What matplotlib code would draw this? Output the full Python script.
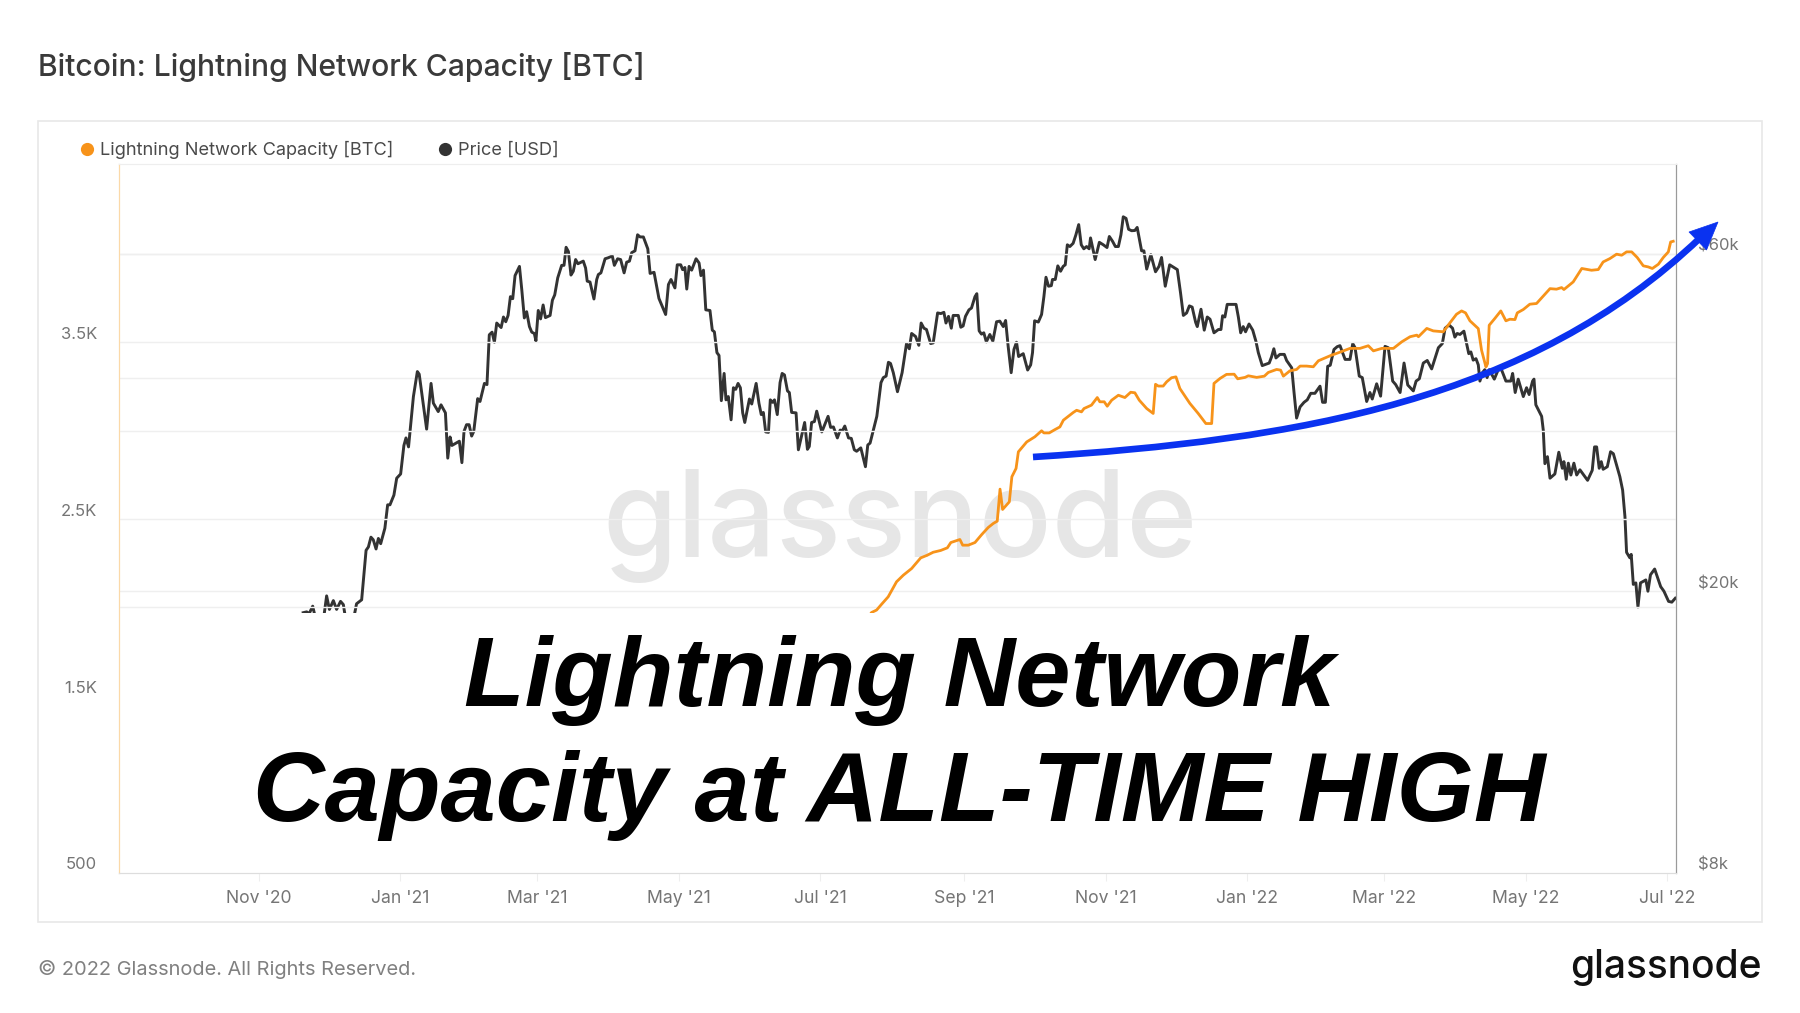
import numpy as np
import pandas as pd
import matplotlib
matplotlib.use("Agg")
import matplotlib.pyplot as plt
from matplotlib.patches import Rectangle, PathPatch, Polygon
from matplotlib.path import Path

start_date = pd.Timestamp("2020-09-02")

# days since start_date, price in thousand USD
price_days = [
    79.2, 80.7, 81.8, 83.3, 84.7, 87.9, 89.3, 90.5, 92.2, 93.6,
    95.3, 96.5, 97.6, 100.8, 102.2, 104.4, 106.3, 107.3, 108.4, 109.4,
    110.6, 111.6, 112.6, 114.4, 115.6, 116.6, 118.3, 119.5, 121.2, 122.6,
    123.5, 124.6, 126.7, 128.4, 129.2, 130.7, 132.4, 134.3, 135.3, 137.4,
    138.6, 140.5, 141.5, 142.5, 143.3, 146.5, 147.6, 148.5, 149.6, 150.7,
    151.8, 152.7, 154.4, 155.4, 157.3, 158.4, 159.4, 160.6, 161.6, 162.6,
    164.5, 165.5, 166.5, 167.5, 168.5, 169.5, 170.5, 172.4, 173.4, 174.5,
    175.5, 176.7, 177.7, 178.8, 179.5, 180.5, 181.5, 182.6, 183.6, 185.6,
    186.6, 187.6, 188.9, 190.6, 191.6, 192.5, 193.5, 194.6, 195.6, 196.6,
    197.6, 199.9, 200.9, 201.6, 202.8,
    204.5, 205.7, 206.4, 207.5, 209.3, 210.7, 212.4, 213.3, 214.7, 216.0,
    217.5, 218.6, 219.8, 220.8, 222.2, 223.3, 224.4, 225.8, 227.7, 228.7,
    230.4, 232.5, 235.4, 236.6, 237.7, 239.4, 240.4, 241.9, 242.7, 243.7,
    244.5, 245.5, 246.6, 248.5, 249.8, 250.6, 251.7, 252.7, 254.5, 255.5,
    256.4, 257.5, 258.4, 259.4, 260.6, 261.4, 262.4, 263.6, 264.6, 265.6,
    266.6, 267.6, 268.6, 269.5, 271.5, 272.5, 274.4, 275.6, 276.6, 277.5,
    278.5, 279.7, 280.5, 281.5, 282.3, 283.5, 284.7, 285.6, 286.6, 287.9,
    288.7, 289.7, 291.6, 292.6, 293.6, 295.3, 296.5, 297.3, 298.3, 299.5,
    300.5, 302.7, 305.4, 306.5, 307.7, 309.4, 310.6, 311.6, 312.6, 314.2,
    315.4, 316.7, 317.7, 319.5, 321.5, 322.5, 323.5, 324.9, 326.4, 328.2,
    329.2, 330.4, 331.4,
    332.3, 333.5, 335.3, 337.3, 339.2, 340.4, 341.4, 343.1, 344.5, 345.5,
    346.7, 347.8, 349.6, 350.7, 352.6, 354.0, 355.3, 356.2, 357.3, 358.5,
    359.3, 361.5, 362.6, 363.6, 364.6, 366.1, 367.2, 368.7, 369.5, 370.5,
    371.5, 372.5, 373.6, 375.1, 376.4, 378.0, 379.4, 380.9, 381.9, 383.0,
    384.3, 385.5, 386.6, 387.5, 389.5, 391.4, 392.7, 393.5, 394.4, 396.0,
    397.4, 398.4, 399.3, 400.4, 401.6, 402.1, 403.3, 404.4, 405.6, 406.7,
    407.6, 408.5, 409.6, 411.0, 412.2, 413.4, 414.5, 415.6, 416.8, 417.9,
    418.5, 420.5, 422.3, 424.0, 425.6, 426.6, 428.0, 429.2, 430.5, 431.6,
    432.6, 433.8, 434.9, 436.2, 437.6, 438.6, 440.5, 441.5, 442.7, 444.5,
    446.5, 448.0,
    449.1, 450.7, 452.6, 455.9, 457.3, 458.5, 459.9, 461.1, 462.3, 463.8,
    464.5, 466.1, 467.5, 468.8, 470.0, 471.7, 473.6, 474.7, 475.4, 476.4,
    477.4, 481.2, 482.2, 483.2, 484.3, 485.3, 486.8, 488.4, 489.8, 490.8,
    492.5, 495.5, 496.5, 497.5, 498.4, 500.1, 502.0, 503.0, 505.2, 506.2,
    507.3, 508.8, 510.5, 511.9, 513.4, 515.2, 517.4, 518.5, 519.7, 520.7,
    521.8, 523.4, 524.8, 526.0, 528.2, 530.3, 531.5, 532.5, 534.3, 535.6,
    537.5, 538.9, 539.9, 541.8, 543.5, 545.4, 546.8, 548.7, 550.0, 551.9,
    553.6, 555.2, 557.6, 558.8, 560.2, 561.9, 563.6, 565.5, 568.4, 570.1,
    571.3, 573.0,
    574.5, 575.5, 576.5, 577.7, 579.4, 580.5, 581.5, 582.4, 583.4, 584.6,
    585.6, 586.3, 587.4, 588.4, 589.4, 590.3, 592.5, 594.2, 595.6, 597.5,
    599.6, 600.4, 601.5, 602.8, 605.0, 606.4, 607.5, 609.0, 609.6, 610.4,
    611.4, 612.9, 613.6, 614.3, 615.4, 616.5, 618.6, 620.3, 621.8, 622.5,
    623.5, 624.4, 625.5, 626.8, 628.0, 629.4, 632.0, 632.7, 634.7, 635.7,
    636.6, 637.7, 638.6, 639.4, 641.2, 642.6, 643.8, 645.2, 646.6, 647.8,
    648.8, 649.5, 650.9, 651.5, 652.4, 653.5, 654.4, 655.5, 657.8, 658.7,
    659.8, 661.6, 664.2, 665.6, 667.6, 669.0, 670.5,
]
price_k = [
    18.65, 18.7, 18.6, 19.05, 18.2, 18.2, 19.7, 18.85, 19.4, 18.85,
    19.35, 19.15, 18.2, 18.2, 19.2, 19.45, 22.85, 23.1, 23.85, 23.65,
    22.95, 23.75, 23.35, 24.55, 26.5, 26.5, 27.35, 28.9, 29.3, 32.15,
    32.95, 32.0, 37.7, 40.9, 40.55, 37.3, 33.9, 39.35, 36.9, 35.9,
    36.7, 35.75, 30.85, 33.05, 32.15, 32.6, 30.4, 33.65, 34.4, 34.4,
    33.15, 33.65, 37.45, 37.1, 39.35, 39.2, 46.1, 46.5, 45.0, 47.9,
    47.2, 48.85, 48.1, 49.1, 52.2, 51.85, 55.9, 57.6, 53.4, 48.7,
    49.7, 47.35, 46.5, 46.3, 45.2, 49.9, 48.55, 50.8, 48.75, 49.1,
    51.6, 52.5, 55.5, 57.8, 57.8, 61.3, 60.45, 56.0, 56.7, 58.9,
    58.1, 58.6, 57.3, 54.9, 54.75,
    51.8, 55.2, 56.1, 56.4, 59.05, 59.25, 59.6, 57.8, 59.05, 58.9,
    56.4, 58.4, 58.6, 60.25, 60.6, 63.85, 63.4, 63.4, 61.0, 56.3,
    56.5, 51.9, 49.25, 54.3, 55.2, 53.7, 57.9, 57.9, 57.0, 57.4,
    53.5, 57.6, 56.9, 59.05, 58.25, 55.9, 56.9, 50.0, 49.9, 46.8,
    46.55, 43.5, 43.1, 37.2, 40.65, 37.3, 37.7, 34.95, 38.8, 38.6,
    39.35, 38.8, 35.75, 34.65, 37.4, 36.8, 39.35, 36.9, 35.55, 35.8,
    33.6, 33.55, 37.3, 37.0, 37.3, 35.55, 39.45, 40.65, 40.45, 38.4,
    38.2, 35.8, 35.75, 31.7, 32.75, 34.65, 31.75, 32.05, 34.65, 34.75,
    35.95, 33.6, 35.35, 34.1, 34.15, 32.95, 33.8, 33.75, 34.25, 32.95,
    32.9, 31.7, 31.55, 31.9, 30.0, 32.2, 32.4, 33.8, 35.35, 39.45,
    40.1, 40.3, 42.15,
    42.0, 40.75, 38.3, 40.75, 44.8, 44.05, 46.3, 45.85, 44.55, 47.9,
    47.1, 46.9, 44.8, 44.9, 49.5, 49.4, 49.6, 47.9, 48.95, 47.1,
    49.1, 49.1, 47.25, 47.45, 48.95, 50.0, 50.3, 52.2, 52.7, 46.7,
    46.2, 46.4, 45.05, 46.15, 45.15, 48.1, 48.2, 47.35, 48.3, 44.4,
    40.75, 43.95, 45.0, 42.95, 43.35, 41.1, 41.8, 43.5, 48.25, 48.05,
    49.25, 52.2, 55.6, 54.0, 54.1, 55.2, 55.2, 57.7, 56.7, 57.6,
    57.9, 61.8, 61.45, 62.1, 63.85, 66.0, 61.8, 61.0, 61.45, 61.0,
    63.2, 58.9, 62.3, 61.8, 61.25, 63.5, 62.5, 61.45, 61.45, 63.85,
    67.7, 67.35, 65.0, 64.7, 64.75, 65.4, 60.6, 60.6, 57.1, 59.85,
    56.6, 57.6,
    59.3, 54.0, 57.9, 57.0, 52.8, 49.1, 49.5, 50.65, 50.45, 48.0,
    47.35, 50.1, 46.8, 48.85, 48.5, 46.4, 46.9, 46.9, 49.05, 48.85,
    50.9, 50.9, 48.85, 46.4, 47.35, 46.55, 47.75, 46.8, 45.1, 43.5,
    41.7, 42.05, 42.9, 44.05, 42.75, 43.25, 43.25, 42.4, 41.4, 38.2,
    35.15, 36.45, 37.0, 37.3, 38.1, 38.1, 39.0, 37.0, 37.0, 41.6,
    41.75, 43.95, 44.35, 44.5, 42.55, 42.55, 44.8, 44.2, 40.3, 40.1,
    37.1, 38.2, 37.4, 39.3, 37.75, 44.4, 44.2, 39.65, 39.2, 38.2,
    42.05, 39.15, 38.4, 39.65, 39.95, 42.05, 42.4, 41.25, 44.2, 44.8,
    47.1, 47.6,
    47.1, 45.75, 46.3, 46.15, 46.65, 44.9, 43.35, 43.6, 42.45, 42.65,
    41.8, 39.65, 40.75, 41.15, 40.1, 41.15, 39.9, 41.15, 41.15, 39.65,
    39.65, 40.65, 38.2, 39.9, 37.7, 38.8, 37.95, 39.65, 39.9, 36.7,
    36.15, 35.35, 33.8, 30.3, 31.0, 28.9, 29.3, 31.45, 29.85, 30.5,
    28.8, 30.35, 29.2, 30.35, 29.2, 29.7, 28.9, 28.7, 29.65, 32.0,
    32.0, 29.85, 30.5, 29.75, 30.0, 31.5, 31.3, 30.15, 29.05, 27.8,
    25.5, 22.7, 22.3, 22.55, 20.45, 20.55, 19.0, 20.55, 20.75, 20.0,
    21.1, 21.5, 20.3, 20.0, 19.35, 19.3, 19.55,
]

capacity_days = [
    322.0, 324.1, 326.3, 328.4, 331.3, 334.9, 337.8, 341.4, 345.3, 348.1,
    350.7, 353.9, 356.8, 358.3, 362.2, 363.4, 365.8, 368.7, 371.6, 374.4,
    376.6, 378.3, 379.5, 380.6, 383.5, 384.6, 386.4, 387.4, 391.0, 394.5,
    397.4, 398.4, 400.7, 403.2, 405.3, 406.8,
    411.0, 412.5, 414.6, 415.7, 418.9, 421.4, 422.5, 424.4, 425.7, 427.6,
    430.5, 433.3, 435.8, 437.6, 439.5, 442.7, 445.5, 446.5,
    447.7, 449.8, 451.3, 453.4, 455.3, 457.0, 461.3, 464.9, 468.2, 470.7,
    471.7, 474.3, 477.1, 480.4, 481.9, 485.1, 486.5, 490.1, 493.4, 495.1,
    498.7, 500.4, 501.6, 504.4, 507.3, 508.8, 511.6, 514.5, 516.7, 522.4,
    523.8, 527.4, 530.3, 534.6, 538.2, 540.4, 544.0, 549.0, 552.6, 556.2,
    559.1, 559.8, 563.4, 566.2, 570.5, 573.4,
    576.2, 578.4, 580.1, 582.0, 585.6, 587.0, 588.9, 589.6, 590.3, 592.7,
    595.3, 597.5, 599.2, 601.4, 602.4, 605.0, 607.8, 610.7, 612.9, 616.5,
    619.3, 621.5, 622.5, 626.5, 630.2, 634.4, 637.3, 639.4, 642.3, 645.2,
    647.4, 649.5, 651.7, 654.1, 656.7, 658.8, 660.6, 663.2, 665.3, 667.5,
    668.5, 669.6,
]
capacity_btc = [
    1930, 1971, 1985, 2017, 2060, 2145, 2182, 2220, 2280, 2295,
    2312, 2322, 2337, 2367, 2384, 2352, 2352, 2367, 2412, 2452,
    2475, 2488, 2669, 2554, 2597, 2739, 2786, 2880, 2936, 2965,
    2999, 2987, 2987, 3006, 3021, 3059,
    3102, 3115, 3106, 3125, 3144, 3187, 3163, 3163, 3138, 3172,
    3200, 3187, 3217, 3214, 3172, 3125, 3097, 3262,
    3252, 3252, 3276, 3299, 3304, 3238, 3154, 3097, 3040, 3040,
    3267, 3295, 3318, 3319, 3293, 3301, 3310, 3301, 3308, 3329,
    3346, 3342, 3308, 3338, 3346, 3365, 3365, 3361, 3395, 3427,
    3433, 3451, 3465, 3465, 3480, 3451, 3465, 3465, 3502, 3531,
    3540, 3531, 3578, 3564, 3559, 3610,
    3658, 3677, 3666, 3621, 3577, 3455, 3360, 3379, 3596, 3634,
    3677, 3621, 3630, 3628, 3666, 3685, 3715, 3719, 3751, 3803,
    3800, 3809, 3798, 3841, 3917, 3907, 3911, 3954, 3973, 3998,
    3992, 4011, 4011, 3979, 3932, 3926, 3917, 3941, 3979, 4011,
    4067, 4071,
]

x_tick_dates = ["2020-11-01", "2021-01-01", "2021-03-01", "2021-05-01", "2021-07-01", "2021-09-01",
                "2021-11-01", "2022-01-01", "2022-03-01", "2022-05-01", "2022-07-01"]
x_tick_labels = ["Nov '20", "Jan '21", "Mar '21", "May '21", "Jul '21", "Sep '21",
                 "Nov '21", "Jan '22", "Mar '22", "May '22", "Jul '22"]
left_grid = [2000, 2500, 3000, 3500, 4000]
left_labels = {500: "500", 1500: "1.5K", 2500: "2.5K", 3500: "3.5K"}
right_grid = [20000, 40000, 60000]
right_labels = {8000: "$8k", 20000: "$20k", 60000: "$60k"}

ORANGE = "#f7931a"
DARK = "#333333"
GREY = "#757575"
BLUE = "#0a32f0"
FONT = "Inter"

W, H = 1800, 1013
plt.rcParams["font.family"] = [FONT, "DejaVu Sans"]
fig = plt.figure(figsize=(W / 100, H / 100), dpi=100, facecolor="white")

# background layer in pixels: card, title, footer, watermark
bg = fig.add_axes([0, 0, 1, 1], zorder=0)
bg.set_xlim(0, W)
bg.set_ylim(H, 0)
bg.axis("off")
bg.add_patch(Rectangle((38, 120.5), 1724, 801.5, fc="white", ec="#e8e8e8", lw=1.2))
bg.text(38, 66.5, "Bitcoin: Lightning Network Capacity [BTC]", fontsize=21.7, color="#3a3a3a",
        ha="left", va="center", fontweight="medium")
bg.text(900.5, 557, "glassnode", fontsize=87, color="#e6e6e6", ha="center", va="baseline",
        fontweight="medium")
bg.text(38, 969, "\u00a9 2022 Glassnode. All Rights Reserved.", fontsize=14.4, color="#808080",
        ha="left", va="center")
bg.text(1762, 978, "glassnode", fontsize=28, color="#111111", ha="right", va="baseline",
        fontweight="medium")
for mx, tx, col, lab in [(87, 100, ORANGE, "Lightning Network Capacity [BTC]"),
                         (445, 458, DARK, "Price [USD]")]:
    bg.plot([mx], [148.5], "o", ms=9.5, color=col, mew=0)
    bg.text(tx, 150, lab, fontsize=13.1, color="#4a4a4a", ha="left", va="center")

# main plot
left, right, top, bottom = 119.4, 1676, 164, 872.6
ax = fig.add_axes([left / W, 1 - bottom / H, (right - left) / W, (bottom - top) / H], zorder=1)
ax.patch.set_alpha(0)
ax2 = ax.twinx()
ax2.patch.set_alpha(0)

to_dates = lambda days: start_date + pd.to_timedelta(np.array(days), unit="D")
x_lim = (start_date, start_date + pd.Timedelta(days=670.8))

ax.plot(to_dates(capacity_days), capacity_btc, color=ORANGE, lw=2.0, zorder=3)
ax.set_xlim(x_lim)
ax.set_ylim(500, 4508)

ax2.set_yscale("log")
ax2.plot(to_dates(price_days), np.array(price_k) * 1000, color=DARK, lw=2.1, zorder=2)
ax2.set_xlim(x_lim)
ax2.set_ylim(8000, 80400)
ax2.minorticks_off()
ax2.set_yticks([])
ax2.set_yticks([], minor=True)
ax.set_zorder(2)

for v in left_grid:
    ax.axhline(v, color="#efefef", lw=1, zorder=1)
for v in right_grid:
    ax2.axhline(v, color="#efefef", lw=1, zorder=1)

ax.set_yticks([])
ax.set_xticks(pd.to_datetime(x_tick_dates))
ax.set_xticklabels(x_tick_labels, fontsize=12.7, color=GREY)
ax.tick_params(axis="x", length=6, width=0.8, color="#eeeeee", pad=6.7)

for v, lab in left_labels.items():
    ax.annotate(lab, (0, v), xycoords=("axes fraction", "data"), xytext=(-16, 5.5),
                textcoords="offset points", ha="right", va="center", fontsize=12, color=GREY)
for v, lab in right_labels.items():
    ax2.annotate(lab, (1, v), xycoords=("axes fraction", "data"), xytext=(16, 5.5),
                 textcoords="offset points", ha="left", va="center", fontsize=12, color=GREY)

for a in (ax, ax2):
    a.spines["top"].set_color("#eeeeee")
    a.spines["bottom"].set_color("#dddddd")
    a.spines["left"].set_color("#fbd9a8")
    a.spines["right"].set_color("#9a9a9a")

# overlay added on top of the chart: white box, headline, arrow
fg = fig.add_axes([0, 0, 1, 1], zorder=5)
fg.set_xlim(0, W)
fg.set_ylim(H, 0)
fg.axis("off")
fg.patch.set_alpha(0)
fg.add_patch(Rectangle((121, 613), 1553, 257, fc="white", ec="none"))
big = dict(fontsize=71.5, fontweight="bold", fontstyle="italic", color="black", ha="center",
           va="baseline", family=["Liberation Sans"])
fg.text(899.5, 706, "Lightning Network", **big)
fg.text(899.5, 821, "Capacity at ALL-TIME HIGH", **big)

arrow = Path([(1033, 457), (1300, 440), (1530, 400), (1700, 238)],
             [Path.MOVETO, Path.CURVE4, Path.CURVE4, Path.CURVE4])
fg.add_patch(PathPatch(arrow, fc="none", ec=BLUE, lw=4.8, capstyle="butt"))
fg.add_patch(Polygon([(1718, 222), (1689, 232), (1706.5, 250)], closed=True, fc=BLUE, ec=BLUE, lw=0.5))

fig.savefig("out.png", dpi=100)
